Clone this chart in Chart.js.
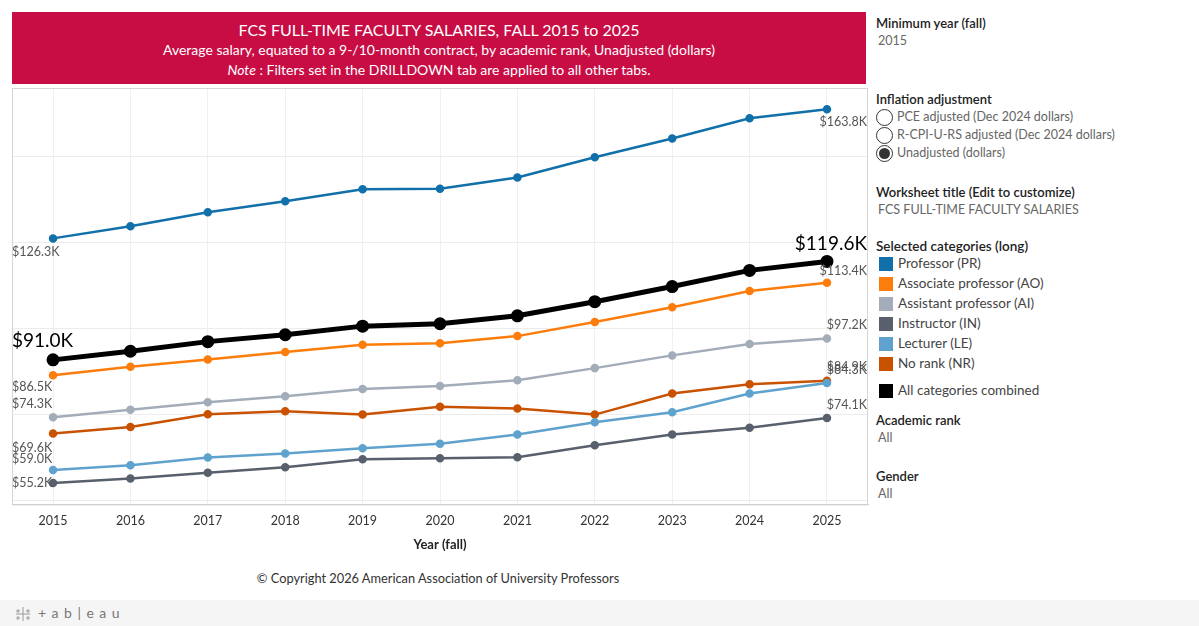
<!DOCTYPE html>
<html>
<head>
<meta charset="utf-8">
<script src="https://cdn.jsdelivr.net/npm/chart.js@4.4.0/dist/chart.umd.min.js"></script>
<style>
  body { margin: 0; background: #fff; font-family: "Lato", sans-serif; color: #333; }
  #page { position: relative; width: 1199px; height: 626px; overflow: hidden; }
  #banner { position: absolute; left: 12px; top: 12px; width: 854px; height: 72px; background: #c80d45; color: #fff; text-align: center; }
  #banner .t1 { font-size: 16px; margin-top: 8px; line-height: 20px; }
  #banner .t2 { font-size: 14px; line-height: 20px; }
  #banner .t3 { font-size: 14px; line-height: 20px; }
  #chart { position: absolute; left: 0; top: 77px; }
  .lbl { position: absolute; font-size: 12.5px; white-space: nowrap; }
  .hd { color: #222; font-weight: 600; font-size: 13px; }
  .val { color: #666; }
  .leg { color: #444; font-size: 13.5px; }
  .radio { position: absolute; left: 876px; width: 17px; height: 17px; border: 1px solid #333; border-radius: 50%; box-sizing: border-box; background: #fff; }
  .radio.on::after { content: ""; position: absolute; left: 2px; top: 2px; width: 11px; height: 11px; border-radius: 50%; background: #333; }
  .sw { position: absolute; left: 879px; width: 14px; height: 14px; }
  #copy { position: absolute; left: 0; width: 876px; top: 570px; text-align: center; font-size: 12.8px; color: #333; }
  #foot { position: absolute; left: 0; top: 600px; width: 1199px; height: 26px; background: #f5f5f5; }
  #foot span { position: absolute; left: 38px; top: 4px; font-size: 14px; color: #777; letter-spacing: 5.5px; }
</style>
</head>
<body>
<div id="page">
  <div id="banner">
    <div class="t1">FCS FULL-TIME FACULTY SALARIES, FALL 2015 to 2025</div>
    <div class="t2">Average salary, equated to a 9-/10-month contract, by academic rank, Unadjusted (dollars)</div>
    <div class="t3"><i>Note</i> : Filters set in the DRILLDOWN tab are applied to all other tabs.</div>
  </div>
  <canvas id="chart" width="872" height="480"></canvas>

  <!-- right side panel -->
  <div class="lbl hd" style="left:876px;top:15px">Minimum year (fall)</div>
  <div class="lbl val" style="left:878px;top:33px">2015</div>
  <div class="lbl hd" style="left:876px;top:91px">Inflation adjustment</div>
  <div class="radio" style="top:109px"></div>
  <div class="lbl val" style="left:897px;top:109px">PCE adjusted (Dec 2024 dollars)</div>
  <div class="radio" style="top:127px"></div>
  <div class="lbl val" style="left:897px;top:127px">R-CPI-U-RS adjusted (Dec 2024 dollars)</div>
  <div class="radio on" style="top:145px"></div>
  <div class="lbl val" style="left:897px;top:145px">Unadjusted (dollars)</div>
  <div class="lbl hd" style="left:876px;top:184px">Worksheet title (Edit to customize)</div>
  <div class="lbl val" style="left:878px;top:202px">FCS FULL-TIME FACULTY SALARIES</div>
  <div class="lbl hd" style="left:876px;top:238px;font-size:13.5px">Selected categories (long)</div>
  <div id="legend"></div>
  <div class="lbl hd" style="left:876px;top:412px">Academic rank</div>
  <div class="lbl val" style="left:878px;top:430px">All</div>
  <div class="lbl hd" style="left:876px;top:468px">Gender</div>
  <div class="lbl val" style="left:878px;top:486px">All</div>

  <div id="copy">© Copyright 2026 American Association of University Professors</div>
  <div id="foot">
    <svg style="position:absolute;left:14px;top:6px" width="18" height="16" viewBox="0 0 18 16">
      <g stroke="#999" stroke-width="1">
        <path d="M9 1v14M2 8h14M4 3v4M2 5h4M14 3v4M12 5h4M4 10v4M2 12h4M14 10v4M12 12h4"/>
      </g>
    </svg>
    <span>+ab|eau</span>
  </div>
</div>

<script>
// years on the x axis
const years = [2015, 2016, 2017, 2018, 2019, 2020, 2021, 2022, 2023, 2024, 2025];

// average salary, thousands of dollars
const professor = [126.3, 129.8, 133.9, 137.1, 140.6, 140.7, 144.0, 149.9, 155.3, 161.2, 163.8];
const associate = [86.5, 89.0, 91.1, 93.3, 95.4, 95.8, 97.9, 102.0, 106.3, 111.0, 113.4];
const assistant = [74.3, 76.5, 78.7, 80.4, 82.5, 83.4, 85.1, 88.6, 92.3, 95.6, 97.2];
const instructor = [55.2, 56.5, 58.2, 59.8, 62.1, 62.4, 62.7, 66.2, 69.3, 71.3, 74.1];
const lecturer = [59.0, 60.4, 62.6, 63.8, 65.3, 66.6, 69.3, 72.9, 75.8, 81.2, 84.3];
const noRank = [69.6, 71.5, 75.2, 76.1, 75.1, 77.4, 76.9, 75.1, 81.2, 83.9, 84.9];
const allCombined = [91.0, 93.5, 96.3, 98.3, 100.8, 101.5, 103.8, 107.9, 112.3, 117.0, 119.6];

const seriesNames = ["Professor (PR)", "Associate professor (AO)", "Assistant professor (AI)",
  "Instructor (IN)", "Lecturer (LE)", "No rank (NR)", "All categories combined"];
const seriesData = [professor, associate, assistant, instructor, lecturer, noRank, allCombined];
const colors = ["#1170aa", "#fc7d0b", "#a3acb9", "#57606c", "#5fa2ce", "#c85200", "#000000"];

// label offsets (px) for first / last point of each series
const labelOffsets = [[14, 13], [12, -12], [-13, -14], [0, -13], [-11, -13], [14, -14], [-19, -18]];

// legend on the right
const legendTops = [257, 277, 297, 317, 337, 357, 384];
let legendHtml = "";
seriesNames.forEach((name, i) => {
  legendHtml += `<div class="sw" style="top:${legendTops[i]}px;background:${colors[i]}"></div>` +
    `<div class="lbl leg" style="left:898px;top:${legendTops[i] - 2}px">${name}</div>`;
});
document.getElementById("legend").innerHTML = legendHtml;

const fmt = (v) => "$" + v.toFixed(1) + "K";

// draw value labels at both ends of each line
const endLabels = {
  id: "endLabels",
  afterDatasetsDraw(chart) {
    const ctx = chart.ctx;
    const area = chart.chartArea;
    chart.data.datasets.forEach((ds, i) => {
      const meta = chart.getDatasetMeta(i);
      const first = meta.data[0];
      const last = meta.data[meta.data.length - 1];
      const big = i === 6;
      ctx.save();
      ctx.font = big ? "19px Lato" : "12.5px Lato";
      ctx.fillStyle = big ? "#000" : "#555";
      ctx.textBaseline = "middle";
      ctx.textAlign = "left";
      ctx.fillText(fmt(ds.data[0].y), area.left, first.y + labelOffsets[i][0]);
      ctx.textAlign = "right";
      ctx.fillText(fmt(ds.data[ds.data.length - 1].y), area.right - 1, last.y + labelOffsets[i][1]);
      ctx.restore();
    });
  }
};

// light frame around the plot
const frame = {
  id: "frame",
  beforeDatasetsDraw(chart) {
    const ctx = chart.ctx;
    const a = chart.chartArea;
    ctx.save();
    ctx.strokeStyle = "#d6d6d6";
    ctx.lineWidth = 1;
    ctx.strokeRect(a.left + 0.5, a.top + 0.5, a.right - a.left - 1, a.bottom - a.top);
    ctx.restore();
  }
};

const datasets = seriesData.map((d, i) => ({
  label: seriesNames[i],
  data: d.map((v, j) => ({ x: years[j], y: v })),
  borderColor: colors[i],
  backgroundColor: colors[i],
  borderWidth: i === 6 ? 5 : 2.5,
  pointRadius: i === 6 ? 4 : 3,
  pointHoverRadius: i === 6 ? 4 : 3,
  tension: 0,
  order: i === 6 ? 0 : i + 1
}));

new Chart(document.getElementById("chart"), {
  type: "line",
  data: { datasets: datasets },
  options: {
    responsive: false,
    animation: false,
    devicePixelRatio: 1,
    layout: { autoPadding: false, padding: { left: 12, right: 4, top: 11, bottom: 0 } },
    plugins: { legend: { display: false }, tooltip: { enabled: false } },
    scales: {
      x: {
        type: "linear",
        min: 2014.47,
        max: 2025.53,
        afterBuildTicks: (s) => { s.ticks = years.map((v) => ({ value: v })); },
        grid: { color: "#f0f0f0", drawTicks: false },
        border: { color: "#c4c4c4" },
        ticks: { color: "#333", font: { family: "Lato", size: 12.5 }, padding: 9, callback: (v) => String(v) },
        title: { display: true, text: "Year (fall)", color: "#222", font: { family: "Lato", size: 13, weight: "bold" }, padding: { top: 0 } }
      },
      y: {
        min: 49,
        max: 170,
        afterBuildTicks: (s) => { s.ticks = [50, 75, 100, 125, 150].map((v) => ({ value: v })); },
        grid: { color: "#ececec", drawTicks: false },
        border: { display: false },
        ticks: { display: false }
      }
    }
  },
  plugins: [frame, endLabels]
});
</script>
</body>
</html>
